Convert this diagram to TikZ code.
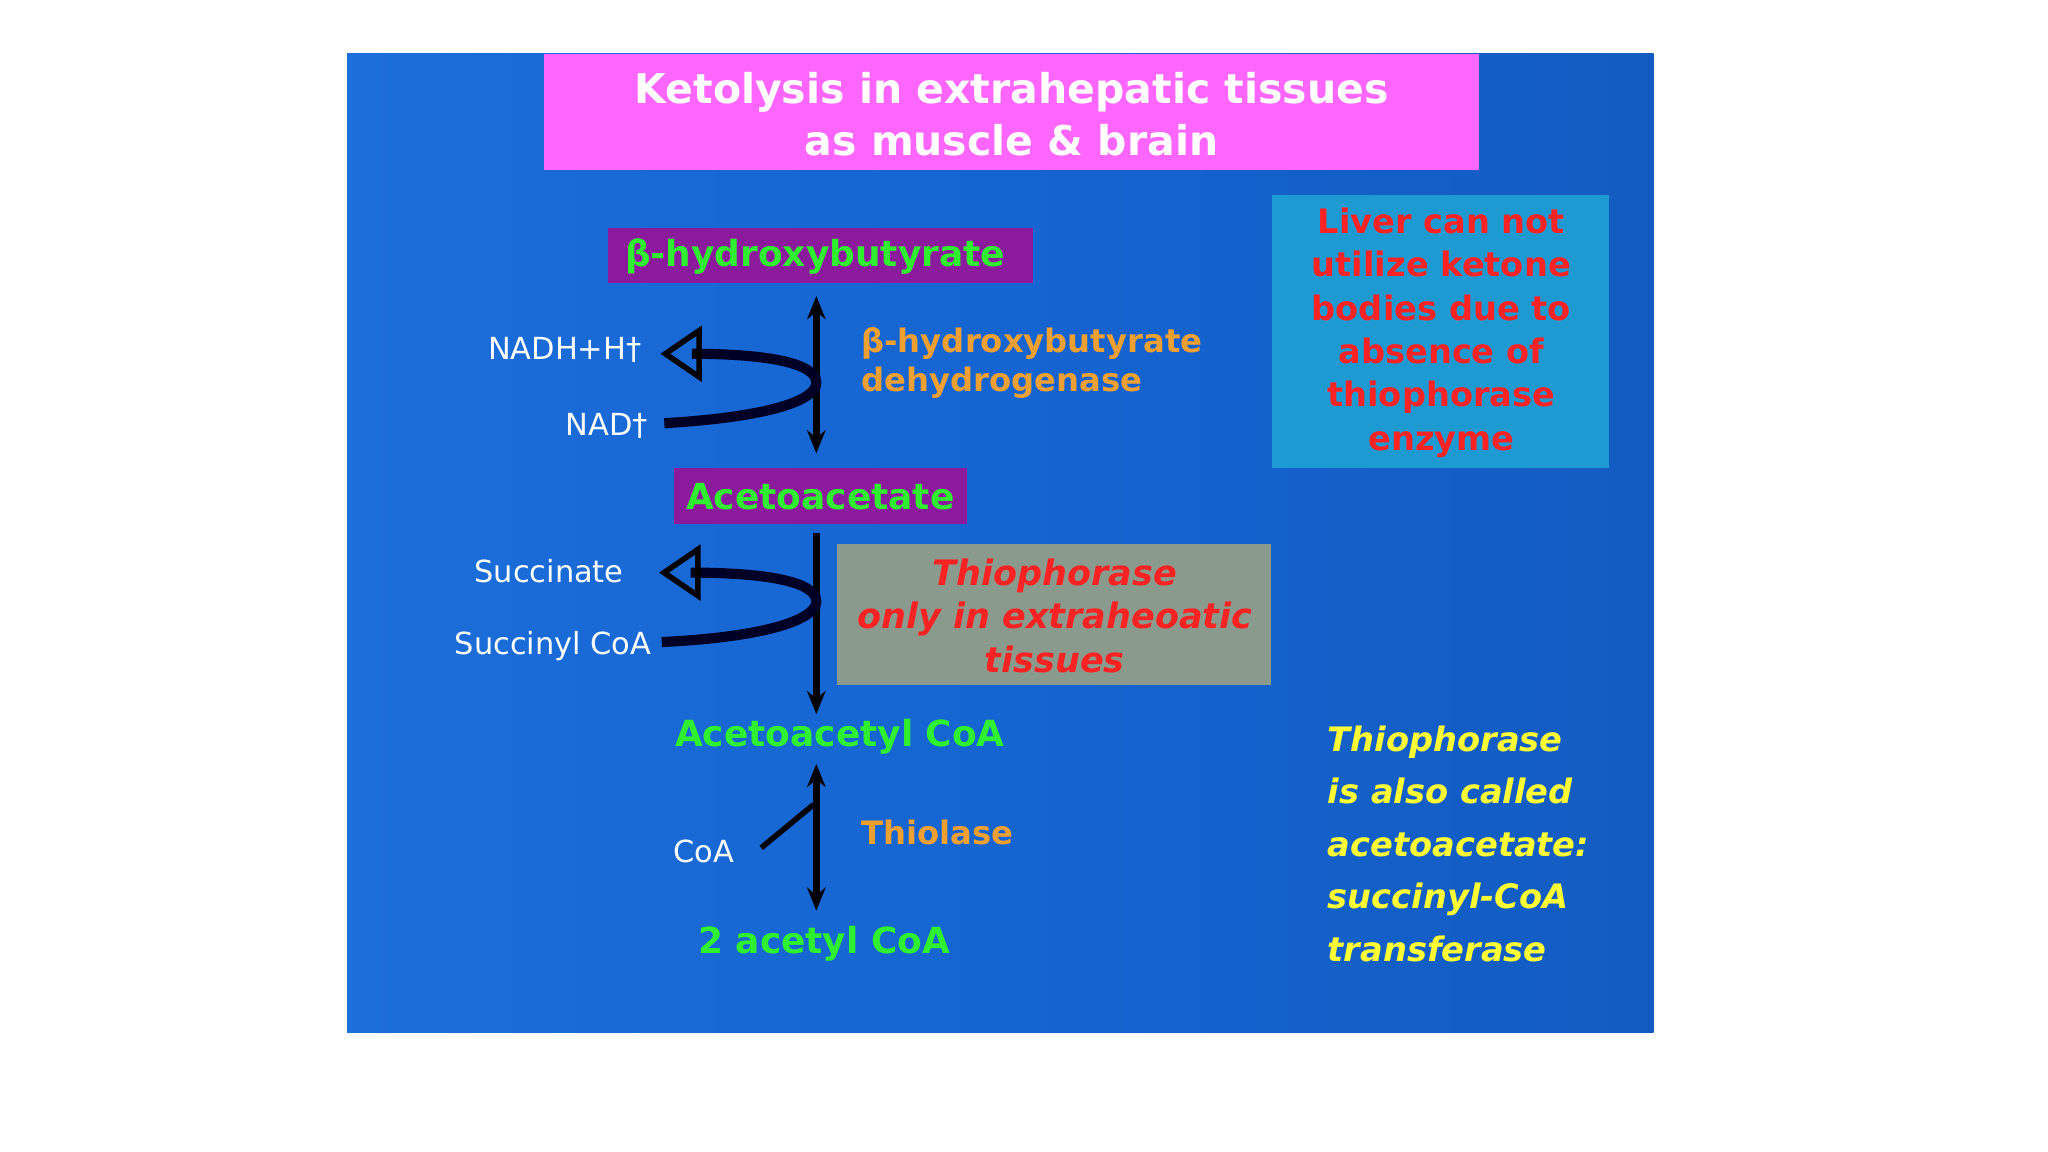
\documentclass[tikz,border=0pt]{standalone}
\usepackage{fontspec}
\setmainfont{DejaVu Sans}
\usetikzlibrary{arrows.meta}
\definecolor{panel}{HTML}{1464D2}
\definecolor{panell}{HTML}{1C6EDA}
\definecolor{pinkt}{HTML}{FF66FF}
\definecolor{purp}{HTML}{8C1A9C}
\definecolor{grn}{HTML}{2EF02E}
\definecolor{orng}{HTML}{F0A030}
\definecolor{redt}{HTML}{FF2222}
\definecolor{grayb}{HTML}{8A9A8C}
\definecolor{lblue}{HTML}{1E9AD2}
\definecolor{ylw}{HTML}{FFFF33}
\begin{document}
\begin{tikzpicture}[x=0.01cm,y=-0.01cm,
  green/.style={text=grn,font=\fontsize{7.8}{9}\selectfont\bfseries},
  wlab/.style={text=white,font=\fontsize{6.6}{8}\selectfont},
  olab/.style={text=orng,font=\fontsize{7}{8.4}\selectfont\bfseries,align=left},
  rxn/.style={line width=1.4pt,black,-{Stealth[length=5pt,width=4pt]}},
  side/.style={line width=2.2pt,black!85!blue},
  opentri/.style={-{Triangle[open,length=9pt,width=12pt,line width=1.2pt]}}]
\useasboundingbox (0,0) rectangle (1563,879);
\fill[white] (0,0) rectangle (1563,879);
\shade[left color=panell,right color=panel!92!black,middle color=panel] (265,41) rectangle (1262,788);
% title
\fill[pinkt] (415,41) rectangle (1129,130);
\node[text=white,font=\fontsize{8.9}{11.2}\selectfont\bfseries,align=center] (title) at (772,87) {Ketolysis in extrahepatic tissues\\as muscle \& brain};
% boxes
\fill[purp] (464,174) rectangle (788,216);
\node[green] (bhb) at (622,196) {β-hydroxybutyrate};
\fill[purp] (514,357) rectangle (738,400);
\node[green] (aa) at (626,379) {Acetoacetate};
\node[green] (aacoa) at (641,562) {Acetoacetyl CoA};
\node[green] (acoa) at (629,720) {2 acetyl CoA};
% arrows
\coordinate (a1) at (623,226); \coordinate (a2) at (623,346);
\draw[rxn,{Stealth[length=5pt,width=4pt]}-{Stealth[length=5pt,width=4pt]}] (a1) -- (a2);
\coordinate (b1) at (623,407); \coordinate (b2) at (623,545);
\draw[rxn] (b1) -- (b2);
\coordinate (c1) at (623,583); \coordinate (c2) at (623,695);
\draw[rxn,{Stealth[length=5pt,width=4pt]}-{Stealth[length=5pt,width=4pt]}] (c1) -- (c2);
% side labels
\node[wlab] (nadh) at (431,267) {NADH+H†};
\node[wlab] (nad) at (463,325) {NAD†};
\node[wlab] (succ) at (419,436) {Succinate};
\node[wlab] (sucoa) at (422,493) {Succinyl CoA};
\node[wlab] (coa) at (537,650) {CoA};
\coordinate (n1) at (507,323); \coordinate (n2) at (504,270);
\draw[side] (n1) .. controls (590,318) and (623,305) .. (623,292) .. controls (623,276) and (580,270) .. (528,270);
\draw[line width=1.2pt,black,opentri] (529,270) -- (n2);
\coordinate (s1) at (505,490); \coordinate (s2) at (503,437);
\draw[side] (s1) .. controls (588,486) and (623,472) .. (623,459) .. controls (623,443) and (580,437) .. (527,437);
\draw[line width=1.2pt,black,opentri] (528,437) -- (s2);
\coordinate (t1) at (581,647); \coordinate (t2) at (621,614);
\draw[line width=1.2pt,black] (t1) -- (t2);
% enzyme labels
\node[olab,anchor=west] (bhbd) at (645,277) {β-hydroxybutyrate\\dehydrogenase};
\node[olab,anchor=west] (thiol) at (645,635) {Thiolase};
% gray box
\fill[grayb] (639,415) rectangle (970,523);
\node[text=redt,font=\fontsize{7.6}{9.4}\selectfont\bfseries\itshape,align=center] (thio) at (805,470) {Thiophorase\\only in extraheoatic\\tissues};
% light blue box
\fill[lblue] (971,149) rectangle (1228,357);
\node[text=redt,font=\fontsize{7.3}{9.4}\selectfont\bfseries,align=center] (liver) at (1100,254) {Liver can not\\utilize ketone\\bodies due to\\absence of\\thiophorase\\enzyme};
% yellow
\node[text=ylw,font=\fontsize{7.3}{11.4}\selectfont\bfseries\itshape,align=left,anchor=west] (alias) at (1001,644) {Thiophorase\\is also called\\acetoacetate:\\succinyl-CoA\\transferase};
\end{tikzpicture}
\end{document}
